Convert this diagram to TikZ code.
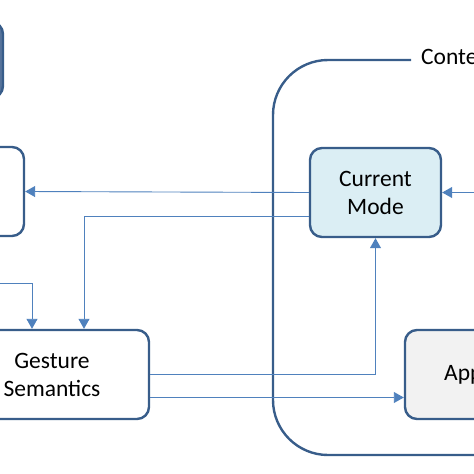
\documentclass[tikz,border=0pt]{standalone}
\usepackage{fontspec}
\setmainfont{Carlito}
\usetikzlibrary{arrows.meta}
\definecolor{boxline}{HTML}{385D8A}
\definecolor{connline}{HTML}{4F81BD}
\definecolor{cmfill}{HTML}{DBEEF4}
\definecolor{appfill}{HTML}{F2F2F2}
\definecolor{darkfill}{HTML}{56739B}
\begin{document}
\begin{tikzpicture}[x=1pt,y=-1pt,
  blk/.style={draw=boxline,line width=2.4pt,rounded corners=12pt,align=center,
    inner sep=0pt,font=\fontsize{23.5}{28}\selectfont},
  conn/.style={draw=connline,line width=0.9pt,-{Triangle[length=10pt,width=11pt]}},
  plain/.style={draw=connline,line width=0.9pt}]
\useasboundingbox (0,0) rectangle (474,474);
\clip (0,0) rectangle (474,474);
\node[blk,fill=darkfill,minimum width=46pt,minimum height=76pt] (tl) at (-20,60) {};
\node[blk,fill=white,minimum width=108pt,minimum height=89pt] (lm) at (-30,191.5) {};
\node[blk,fill=white,minimum width=194pt,minimum height=89pt] (gs) at (52,374.5) {Gesture\\Semantics};
\node[blk,fill=cmfill,minimum width=131pt,minimum height=89pt] (cm) at (375.5,192.5) {Current\\Mode};
\node[blk,fill=appfill,minimum width=186pt,minimum height=89pt] (app) at (498,374.5) {Application};
\draw[draw=boxline,line width=2.4pt,rounded corners=55pt] (411,60) -- (273,60) -- (273,455) -- (520,455);
\node[anchor=west,inner sep=0pt,font=\fontsize{23.5}{28}\selectfont] (ctx) at (421,57) {Context};
\coordinate (in1) at (-5,283);
\coordinate (in2) at (485,192.5);
\draw[conn] (cm.west) -- (lm.east);
\draw[conn] ([yshift=-24pt]cm.west) -| ([xshift=32pt]gs.north);
\draw[conn] (in1) -| ([xshift=-20pt]gs.north);
\draw[conn] (gs.east) -| (cm.south);
\draw[conn] ([yshift=-23pt]gs.east) -- ([yshift=-23pt]app.west);
\draw[conn] (in2) -- (cm.east);
\end{tikzpicture}
\end{document}
